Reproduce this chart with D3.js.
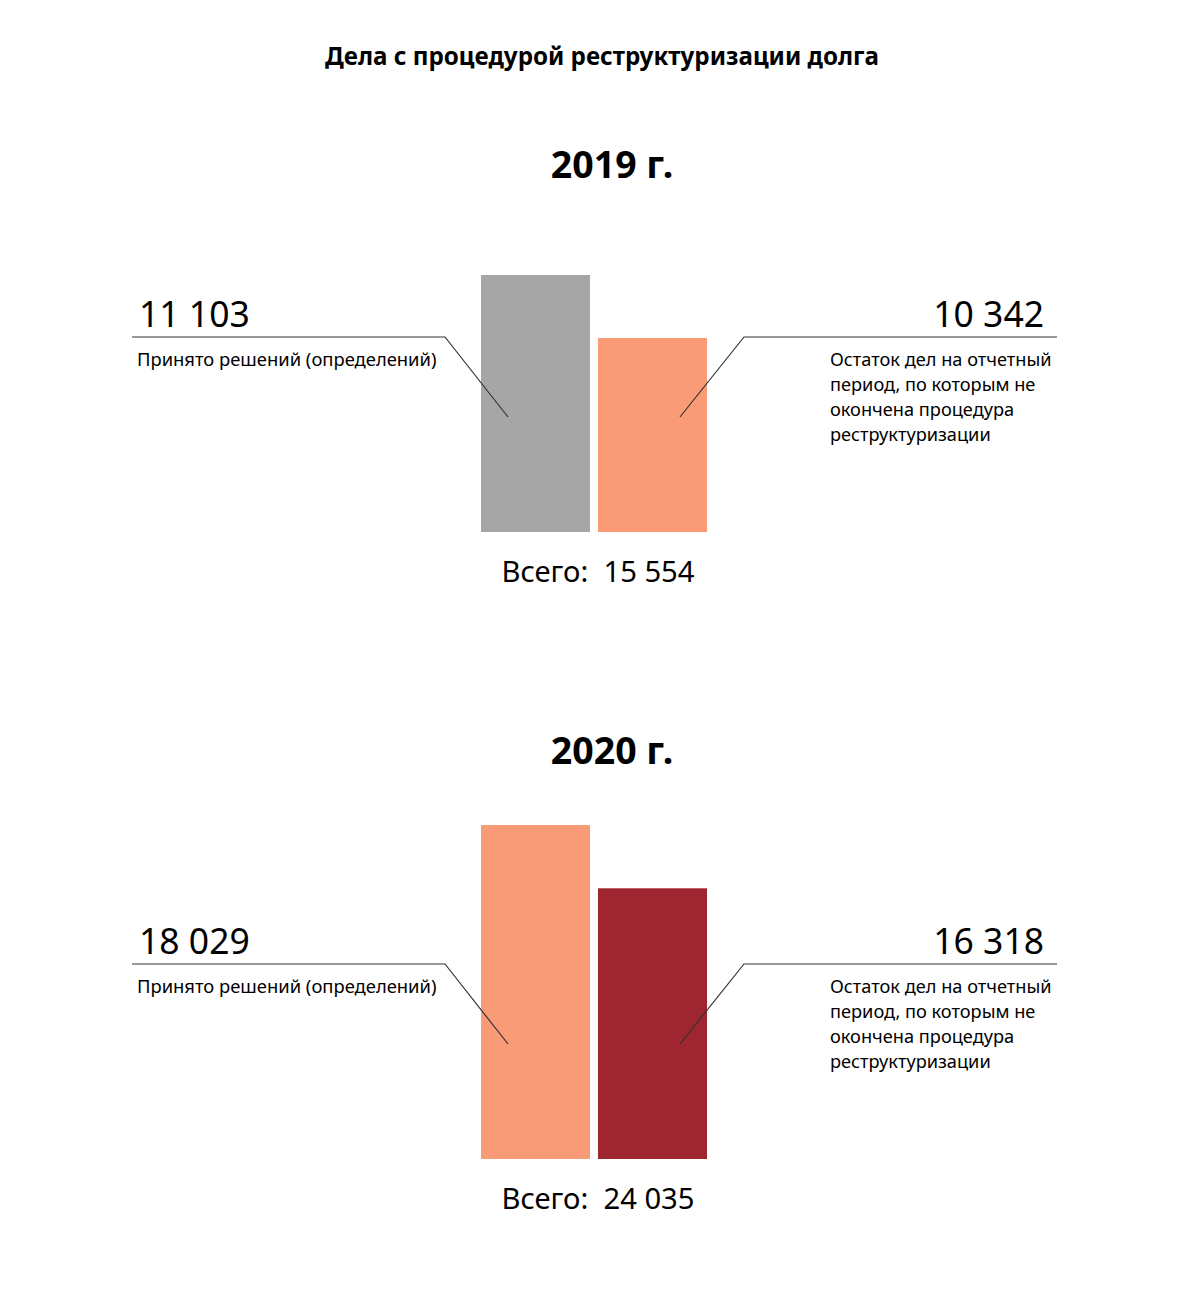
<!DOCTYPE html>
<html>
<head>
<meta charset="utf-8">
<script src="https://cdn.jsdelivr.net/npm/d3@7"></script>
<style>
  body { margin: 0; background: #fff; }
  text { font-family: "Noto Sans", "Open Sans", sans-serif; fill: #000; }
</style>
</head>
<body>
<script>
var w = 1200;
var h = 1316;

// data
var years = ['2019 г.', '2020 г.'];
var decided = [11103, 18029];
var remaining = [10342, 16318];
var totals = [15554, 24035];
var decidedLabel = 'Принято решений (определений)';
var remainingLabel = ['Остаток дел на отчетный', 'период, по которым не', 'окончена процедура', 'реструктуризации'];
var barColors = [['#a6a6a6', '#f99b77'], ['#f99b77', '#9f2630']];

// layout per panel
var baselines = [532, 1159];
var yearY = [178, 764];
var floors = [8000, 9000];
var tallest = [257, 334];

var fmt = function(v) { return d3.format(',')(v).replace(/,/g, ' '); };

var svg = d3.select('body')
	.append('svg')
	.attr('width', w)
	.attr('height', h);

svg.append('text')
	.attr('x', 602)
	.attr('y', 65)
	.attr('text-anchor', 'middle')
	.style('font-size', '24.2px')
	.style('font-weight', 'bold')
	.text('Дела с процедурой реструктуризации долга');

var x = d3.scaleBand()
	.domain([0, 1])
	.range([481, 707])
	.paddingInner(0.068);

years.forEach(function(year, p) {
	var base = baselines[p];
	var vals = [decided[p], remaining[p]];
	var y = d3.scaleLinear()
		.domain([floors[p], d3.max(vals)])
		.range([base, base - tallest[p]]);

	var g = svg.append('g');

	g.append('text')
		.attr('x', 612)
		.attr('y', yearY[p])
		.attr('text-anchor', 'middle')
		.style('font-size', '37.5px')
		.style('font-weight', 'bold')
		.text(year);

	g.selectAll('rect')
		.data(vals)
		.enter()
		.append('rect')
		.attr('x', function(d, i) { return x(i); })
		.attr('y', function(d) { return y(d); })
		.attr('width', x.bandwidth())
		.attr('height', function(d) { return base - y(d); })
		.attr('fill', function(d, i) { return barColors[p][i]; });

	// leader lines
	var lineY = base - 195;
	var endY = base - 115;
	g.append('polyline')
		.attr('points', [[132, lineY], [445, lineY], [x(0) + 27, endY]].join(' '))
		.attr('fill', 'none')
		.attr('stroke', '#333')
		.attr('stroke-width', 1.2);
	g.append('polyline')
		.attr('points', [[1057, lineY], [744, lineY], [x(1) + 82, endY]].join(' '))
		.attr('fill', 'none')
		.attr('stroke', '#333')
		.attr('stroke-width', 1.2);

	g.append('text')
		.attr('x', 139)
		.attr('y', lineY - 10)
		.style('font-size', '35.5px')
		.text(fmt(decided[p]));

	g.append('text')
		.attr('x', 1044)
		.attr('y', lineY - 10)
		.attr('text-anchor', 'end')
		.style('font-size', '35.5px')
		.text(fmt(remaining[p]));

	g.append('text')
		.attr('x', 137)
		.attr('y', lineY + 29)
		.style('font-size', '18.4px')
		.text(decidedLabel);

	g.selectAll('text.rem')
		.data(remainingLabel)
		.enter()
		.append('text')
		.attr('class', 'rem')
		.attr('x', 830)
		.attr('y', function(d, i) { return lineY + 29 + i * 25; })
		.style('font-size', '18.2px')
		.text(function(d) { return d; });

	g.append('text')
		.attr('x', 598)
		.attr('y', base + 50)
		.attr('text-anchor', 'middle')
		.style('font-size', '29.2px')
		.style('white-space', 'pre')
		.attr('xml:space', 'preserve')
		.text('Всего:  ' + fmt(totals[p]));
});
</script>
</body>
</html>
